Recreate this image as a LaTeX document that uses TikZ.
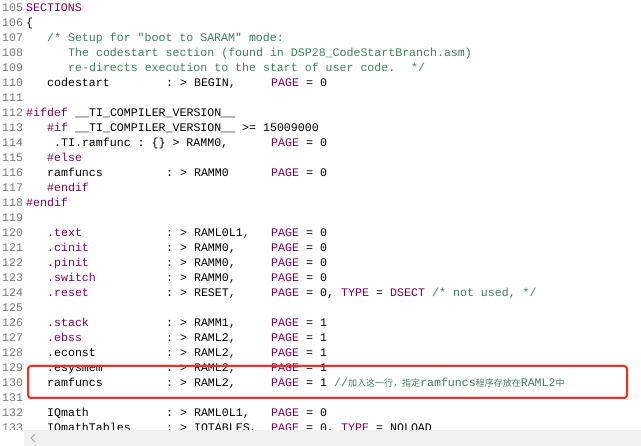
\documentclass[tikz,border=0pt]{standalone}
\usepackage{fontspec}
\setmonofont{Liberation Mono}
\newfontfamily\cjk{Noto Sans CJK SC}
\definecolor{kw}{HTML}{7F0055}
\definecolor{cm}{HTML}{3F7F5F}
\definecolor{lnum}{HTML}{787878}
\definecolor{redbox}{HTML}{FF2A1A}
\newcommand\cc[4][black]{\node[anchor=base west,inner sep=0pt,text=#1] at ({26pt+7pt*#2},{-12pt-15pt*(#3-105)}) {#4};}
\newcommand\sect[5]{\cc[#1]{3}{#2}{#3}\cc{20}{#2}{: > #4}\cc[kw]{35}{#2}{PAGE}\cc{40}{#2}{= #5}}
\begin{document}
\begin{tikzpicture}[x=1pt,y=1pt,font=\ttfamily\fontsize{11.6}{14}\selectfont]
\useasboundingbox[fill=white] (0,0) rectangle (641,-446);
\foreach \n in {105,...,133} {\node[anchor=base west,inner sep=0pt,text=lnum] at (2,{-12-15*(\n-105)}) {\n};}
\cc[kw]{0}{105}{SECTIONS}
\cc{0}{106}{\{}
\cc[cm]{3}{107}{/* Setup for "boot to SARAM" mode:}
\cc[cm]{6}{108}{The codestart section (found in DSP28\_CodeStartBranch.asm)}
\cc[cm]{6}{109}{re-directs execution to the start of user code.}
\cc[cm]{55}{109}{*/}
\sect{black}{110}{codestart}{BEGIN,}{0}
\cc[kw]{0}{112}{\#ifdef}\cc{7}{112}{\_\_TI\_COMPILER\_VERSION\_\_}
\cc[kw]{3}{113}{\#if}\cc{7}{113}{\_\_TI\_COMPILER\_VERSION\_\_ >= 15009000}
\cc{4}{114}{.TI.ramfunc : \{\} > RAMM0,}\cc[kw]{35}{114}{PAGE}\cc{40}{114}{= 0}
\cc[kw]{3}{115}{\#else}
\cc{3}{116}{ramfuncs}\cc{20}{116}{: > RAMM0}\cc[kw]{35}{116}{PAGE}\cc{40}{116}{= 0}
\cc[kw]{3}{117}{\#endif}
\cc[kw]{0}{118}{\#endif}
\sect{kw}{120}{.text}{RAML0L1,}{0}
\sect{kw}{121}{.cinit}{RAMM0,}{0}
\sect{kw}{122}{.pinit}{RAMM0,}{0}
\sect{kw}{123}{.switch}{RAMM0,}{0}
\sect{kw}{124}{.reset}{RESET,}{0,}
\cc[kw]{45}{124}{TYPE}\cc{50}{124}{=}\cc[kw]{52}{124}{DSECT}\cc[cm]{58}{124}{/* not used, */}
\sect{kw}{126}{.stack}{RAMM1,}{1}
\sect{kw}{127}{.ebss}{RAML2,}{1}
\sect{black}{128}{.econst}{RAML2,}{1}
\sect{black}{129}{.esysmem}{RAML2,}{1}
\sect{black}{130}{ramfuncs}{RAML2,}{1}
\node[anchor=base west,inner sep=0pt,text=cm] (cmt) at ({26+7*44},{-12-15*25}) {//{\cjk\fontsize{9}{10}\selectfont 加入这一行，指定}ramfuncs{\cjk\fontsize{9}{10}\selectfont 程序存放在}RAML2{\cjk\fontsize{9}{10}\selectfont 中}};
\sect{black}{132}{IQmath}{RAML0L1,}{0}
\sect{black}{133}{IQmathTables}{IQTABLES,}{0,}
\cc[kw]{45}{133}{TYPE}\cc{50}{133}{= NOLOAD}
\draw[redbox,line width=2pt,rounded corners=3pt] (28,-366) rectangle (627,-398);
\fill[white] (0,-430) rectangle (24,-446);
\fill[gray!12] (24,-430) rectangle (641,-446);
\draw[gray!70,line width=0.8pt] (35,-434) -- (31,-438) -- (35,-442);
\end{tikzpicture}
\end{document}
